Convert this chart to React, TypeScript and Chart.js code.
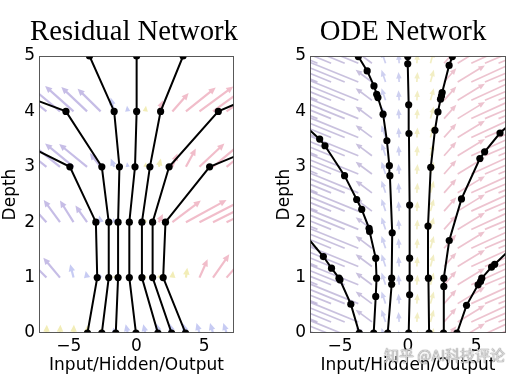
import React, { useEffect, useRef } from "react";
import { Chart, registerables } from "chart.js";
Chart.register(...registerables);

// ---------- axes ----------
const DEPTHS = [0, 1, 2, 3, 4, 5];
const Y_TICKS = [0, 1, 2, 3, 4, 5];
const X_TICKS = [-5, 0, 5];
const X_MIN = -7.2;
const X_MAX = 7.2;

// ---------- Residual network: x position of each trajectory at depths 0..5 ----------
const RES_T1 = [-3.62, -2.9, -3.0, -4.92, -13.1, -22.0];
const RES_T2 = [-2.56, -2.05, -2.05, -2.56, -5.21, -16.1];
const RES_T3 = [-1.53, -1.36, -1.36, -1.26, -1.65, -3.47];
const RES_T4 = [-0.04, -0.53, -0.53, -0.11, 0.01, 0.01];
const RES_T5 = [1.58, 0.4, 0.4, 0.99, 1.78, 3.44];
const RES_T6 = [2.59, 1.19, 1.19, 2.41, 6.04, 15.6];
const RES_T7 = [3.62, 1.97, 2.14, 5.4, 15.3, 25.0];
const RES_TRAJ = [RES_T1, RES_T2, RES_T3, RES_T4, RES_T5, RES_T6, RES_T7];

// ---------- ODE network: trajectories (x, depth) at solver evaluation points ----------
const ODE_A_X = [-3.58, -4.2, -5.0, -5.07, -5.62, -6.22, -8.5];
const ODE_A_T = [0, 0.52, 0.96, 0.99, 1.17, 1.38, 2.05];
const ODE_B_X = [-2.52, -2.37, -2.31, -2.37, -2.82, -2.86, -3.4, -3.77, -4.66, -6.1, -6.49, -8.5];
const ODE_B_T = [0, 0.66, 0.99, 1.35, 1.83, 1.89, 2.23, 2.41, 2.84, 3.38, 3.5, 3.95];
const ODE_C_X = [-1.49, -1.2, -1.2, -1.16, -1.33, -1.37, -1.55, -1.83, -2.21, -2.3, -2.5, -3.0, -3.65];
const ODE_C_T = [0, 0.88, 0.99, 1.81, 2.84, 3.02, 3.47, 3.95, 4.25, 4.31, 4.46, 4.73, 4.99];
const ODE_D_X = [0.05, 0.12, 0.12, 0.12, 0.12, 0.07, 0.05, -0.02, -0.02];
const ODE_D_T = [0, 0.69, 0.99, 1.35, 2.31, 3.6, 4.12, 4.86, 4.99];
const ODE_E_X = [1.55, 1.5, 1.47, 1.67, 1.98, 2.2, 2.39, 2.46, 2.51, 3.02, 3.26];
const ODE_E_T = [0, 0.99, 1.93, 2.99, 3.66, 3.99, 4.22, 4.28, 4.34, 4.83, 4.99];
const ODE_F_X = [2.61, 2.63, 2.63, 3.03, 3.93, 5.28, 5.63, 6.76, 8.5];
const ODE_F_T = [0, 0.84, 0.99, 1.67, 2.42, 3.15, 3.27, 3.61, 4.0];
const ODE_G_X = [3.6, 4.3, 5.15, 5.33, 5.42, 6.14, 6.37, 8.5];
const ODE_G_T = [0, 0.5, 0.87, 0.93, 0.99, 1.19, 1.24, 1.75];
const ODE_TRAJ = [
  [ODE_A_X, ODE_A_T],
  [ODE_B_X, ODE_B_T],
  [ODE_C_X, ODE_C_T],
  [ODE_D_X, ODE_D_T],
  [ODE_E_X, ODE_E_T],
  [ODE_F_X, ODE_F_T],
  [ODE_G_X, ODE_G_T],
];

// ---------- Residual quiver (tail x, one row per layer depth) ----------
const RES_QX = [-6.65, -5.65, -4.65, -3.65, -2.65, -1.65, -0.65, 0.65, 1.65, 2.65, 3.65, 4.65, 5.65, 6.65];
const RES_QROWS = [0, 1, 2, 3, 4];
const RES_QU0 = [0.03, 0.03, 0.03, 0.02, 0.0, -0.05, -0.15, -0.15, -0.18, -0.2, -0.2, -0.22, -0.22, -0.24];
const RES_QV0 = [0.15, 0.15, 0.15, 0.14, 0.08, 0.1, 0.16, 0.16, 0.17, 0.17, 0.17, 0.18, 0.18, 0.18];
const RES_QU1 = [-1.6, -1.23, -0.25, -0.1, -0.03, 0.0, 0.0, 0.0, 0.02, 0.05, 0.1, 0.6, 1.2, 1.5];
const RES_QV1 = [0.4, 0.36, 0.24, 0.12, 0.06, 0.04, 0.04, 0.04, 0.05, 0.12, 0.18, 0.33, 0.42, 0.42];
const RES_QU2 = [-1.5, -1.2, -1.0, -0.86, -0.1, -0.05, -0.02, 0.02, 0.3, 2.1, 3.0, 3.2, 3.3, 3.4];
const RES_QV2 = [0.4, 0.4, 0.39, 0.3, 0.12, 0.08, 0.06, 0.06, 0.15, 0.39, 0.4, 0.4, 0.4, 0.4];
const RES_QU3 = [-2.3, -2.2, -2.1, -2.06, -0.8, -0.25, -0.05, 0.05, 0.15, 0.37, 0.73, 1.84, 2.1, 2.3];
const RES_QV3 = [0.44, 0.43, 0.42, 0.41, 0.25, 0.15, 0.08, 0.08, 0.15, 0.24, 0.33, 0.42, 0.43, 0.44];
const RES_QU4 = [-2.4, -2.3, -2.1, -1.9, -1.7, -0.26, -0.05, 0.05, 0.3, 1.2, 2.2, 2.5, 2.6, 2.7];
const RES_QV4 = [0.47, 0.47, 0.46, 0.44, 0.41, 0.25, 0.1, 0.1, 0.2, 0.33, 0.43, 0.45, 0.46, 0.47];
const RES_QU = [RES_QU0, RES_QU1, RES_QU2, RES_QU3, RES_QU4];
const RES_QV = [RES_QV0, RES_QV1, RES_QV2, RES_QV3, RES_QV4];

// ---------- ODE quiver ----------
const ODE_QX = [-6.65, -5.65, -4.65, -3.65, -2.65, -1.65, -0.65, 0.65, 1.65, 2.65, 3.65, 4.65, 5.65, 6.65];
const ODE_QROWS = [-0.13, 0.2, 0.53, 0.87, 1.2, 1.53, 1.87, 2.2, 2.53, 2.87, 3.2, 3.53, 3.87, 4.2, 4.53, 4.87];
const ODE_QU = [-6.0, -5.5, -5.0, -4.5, -1.2, -0.3, -0.05, 0.05, 0.25, 0.9, 2.0, 4.0, 4.8, 5.5];
const ODE_QV = [0.6, 0.55, 0.5, 0.45, 0.22, 0.22, 0.18, 0.18, 0.22, 0.25, 0.3, 0.45, 0.5, 0.55];

type Arrow = { x: number; y: number; u: number; v: number };

const RES_ARROWS: Arrow[] = RES_QROWS.flatMap((d, r) =>
  RES_QX.map((x, i) => ({ x, y: d, u: RES_QU[r][i], v: RES_QV[r][i] }))
);
const ODE_ARROWS: Arrow[] = ODE_QROWS.flatMap((d) =>
  ODE_QX.map((x, i) => ({ x, y: d, u: ODE_QU[i], v: ODE_QV[i] }))
);

const RES_PALETTE = ["128,108,200", "130,140,228", "226,214,96", "224,108,138"];
const ODE_PALETTE = ["112,92,168", "125,132,215", "222,210,100", "208,98,128"];

function arrowColor(u: number, a: number, pal: string[]) {
  if (u <= -0.8) return `rgba(${pal[0]},${a})`;
  if (u < 0) return `rgba(${pal[1]},${a})`;
  if (u < 0.3) return `rgba(${pal[2]},${a})`;
  return `rgba(${pal[3]},${a})`;
}

function drawArrow(
  ctx: CanvasRenderingContext2D,
  x0: number, y0: number, x1: number, y1: number,
  w: number, hw: number, hl: number, fill: string
) {
  const dx = x1 - x0, dy = y1 - y0;
  const len = Math.hypot(dx, dy);
  if (len < 0.5) return;
  const ux = dx / len, uy = dy / len;
  const nx = -uy, ny = ux;
  let HL = hl, HW = hw, W = w;
  if (len < hl) {
    const s = len / hl;
    HL = len; HW = hw * Math.max(s, 0.6); W = w * s;
  }
  const bx = x1 - ux * HL, by = y1 - uy * HL;
  ctx.beginPath();
  ctx.moveTo(x0 + (nx * W) / 2, y0 + (ny * W) / 2);
  ctx.lineTo(bx + (nx * W) / 2, by + (ny * W) / 2);
  ctx.lineTo(bx + (nx * HW) / 2, by + (ny * HW) / 2);
  ctx.lineTo(x1, y1);
  ctx.lineTo(bx - (nx * HW) / 2, by - (ny * HW) / 2);
  ctx.lineTo(bx - (nx * W) / 2, by - (ny * W) / 2);
  ctx.lineTo(x0 - (nx * W) / 2, y0 - (ny * W) / 2);
  ctx.closePath();
  ctx.fillStyle = fill;
  ctx.fill();
}

const quiverPlugin = {
  id: "quiver",
  beforeDatasetsDraw(chart: any, _args: any, opts: any) {
    const arrows: Arrow[] = opts.arrows || [];
    const { ctx, chartArea: a } = chart;
    const xs = chart.scales.x, ys = chart.scales.y;
    ctx.save();
    ctx.beginPath();
    ctx.rect(a.left, a.top, a.right - a.left, a.bottom - a.top);
    ctx.clip();
    for (const ar of arrows) {
      const x0 = xs.getPixelForValue(ar.x);
      const y0 = ys.getPixelForValue(ar.y);
      const x1 = xs.getPixelForValue(ar.x + ar.u);
      const y1 = ys.getPixelForValue(ar.y + ar.v);
      drawArrow(ctx, x0, y0, x1, y1, opts.shaft, opts.headW, opts.headL, arrowColor(ar.u, opts.alpha, opts.palette));
    }
    ctx.restore();
  },
};

const framePlugin = {
  id: "frame",
  afterDraw(chart: any) {
    const { ctx, chartArea: a } = chart;
    ctx.save();
    ctx.strokeStyle = "rgba(70,70,70,0.9)";
    ctx.lineWidth = 1;
    ctx.strokeRect(Math.round(a.left) + 0.5, Math.round(a.top) + 0.5, Math.round(a.right - a.left) - 1, Math.round(a.bottom - a.top) - 1);
    ctx.restore();
  },
};

const FONT = { family: "'DejaVu Sans', sans-serif", size: 17 };
const fmt = (v: any) => (Number(v) < 0 ? "\u2212" + Math.abs(Number(v)) : String(v));

function makeConfig(datasets: any[], arrows: Arrow[], q: any, pad: any, yWidth: number) {
  return {
    type: "scatter",
    data: { datasets },
    options: {
      responsive: false,
      animation: false,
      events: [],
      layout: { padding: pad },
      plugins: {
        legend: { display: false },
        tooltip: { enabled: false },
        title: { display: false },
        quiver: { arrows, ...q },
      },
      scales: {
        x: {
          type: "linear",
          min: X_MIN,
          max: X_MAX,
          afterBuildTicks: (s: any) => { s.ticks = X_TICKS.map((v) => ({ value: v })); },
          afterFit: (s: any) => { s.height = 48; },
          grid: { display: false, drawTicks: false },
          border: { display: false },
          ticks: { font: FONT, color: "#000", padding: 3, callback: fmt, maxRotation: 0 },
          title: { display: true, text: "Input/Hidden/Output", font: FONT, color: "#000", padding: { top: 0, bottom: 5 } },
        },
        y: {
          type: "linear",
          min: 0,
          max: 5,
          afterBuildTicks: (s: any) => { s.ticks = Y_TICKS.map((v) => ({ value: v })); },
          afterFit: (s: any) => { s.width = yWidth; },
          grid: { display: false, drawTicks: false },
          border: { display: false },
          ticks: { font: FONT, color: "#000", padding: 4, callback: fmt },
          title: { display: true, text: "Depth", font: FONT, color: "#000", padding: { top: 0, bottom: 0 } },
        },
      },
    },
    plugins: [quiverPlugin, framePlugin],
  };
}

const lineStyle = {
  showLine: true,
  borderColor: "#000",
  borderWidth: 2,
  pointRadius: 3.6,
  pointBackgroundColor: "#000",
  pointBorderWidth: 0,
  clip: 0,
};

function residualConfig() {
  const datasets = RES_TRAJ.map((xs) => ({
    data: xs.map((x, i) => ({ x, y: DEPTHS[i] })),
    ...lineStyle,
  }));
  return makeConfig(
    datasets,
    RES_ARROWS,
    { shaft: 2.2, headW: 6.5, headL: 7, alpha: 0.45, palette: RES_PALETTE },
    { left: 0, right: 27, top: 56, bottom: 0 },
    39
  );
}

function odeConfig() {
  const datasets = ODE_TRAJ.map(([xs, ts]) => ({
    data: xs.map((x, i) => ({ x, y: ts[i] })),
    ...lineStyle,
  }));
  return makeConfig(
    datasets,
    ODE_ARROWS,
    { shaft: 1.7, headW: 5.5, headL: 6.5, alpha: 0.38, palette: ODE_PALETTE },
    { left: 13, right: 16, top: 56, bottom: 0 },
    36
  );
}

function Panel({ left, build }: { left: number; build: () => any }) {
  const ref = useRef<HTMLCanvasElement>(null);
  useEffect(() => {
    const chart = new Chart(ref.current as HTMLCanvasElement, build());
    return () => chart.destroy();
  }, []);
  return (
    <canvas
      ref={ref}
      width={261}
      height={381}
      style={{ position: "absolute", left, top: 0, width: 261, height: 381 }}
    />
  );
}

const titleStyle: React.CSSProperties = {
  position: "absolute",
  top: 16,
  width: 300,
  textAlign: "center",
  fontFamily: "'Liberation Serif', 'DejaVu Serif', serif",
  fontSize: "28.7px",
  lineHeight: "29px",
  color: "#000",
  whiteSpace: "nowrap",
};

export default function App() {
  return (
    <div
      style={{
        position: "fixed",
        left: 0,
        top: 0,
        width: 522,
        height: 381,
        background: "#fff",
        overflow: "hidden",
      }}
    >
      <Panel left={0} build={residualConfig} />
      <Panel left={261} build={odeConfig} />
      <div style={{ ...titleStyle, left: 134 - 150 }}>Residual Network</div>
      <div style={{ ...titleStyle, left: 403 - 150 }}>ODE Network</div>
      <div
        style={{
          position: "absolute",
          left: 384,
          top: 346,
          fontFamily: "'Noto Sans CJK SC', sans-serif",
          fontSize: "15px",
          lineHeight: "18px",
          color: "rgba(255,255,255,0.7)",
          textShadow: "0 0 1px rgba(110,110,110,0.9), 0 0 1px rgba(110,110,110,0.9)",
          whiteSpace: "nowrap",
        }}
      >
        知乎 @AI科技评论
      </div>
    </div>
  );
}
